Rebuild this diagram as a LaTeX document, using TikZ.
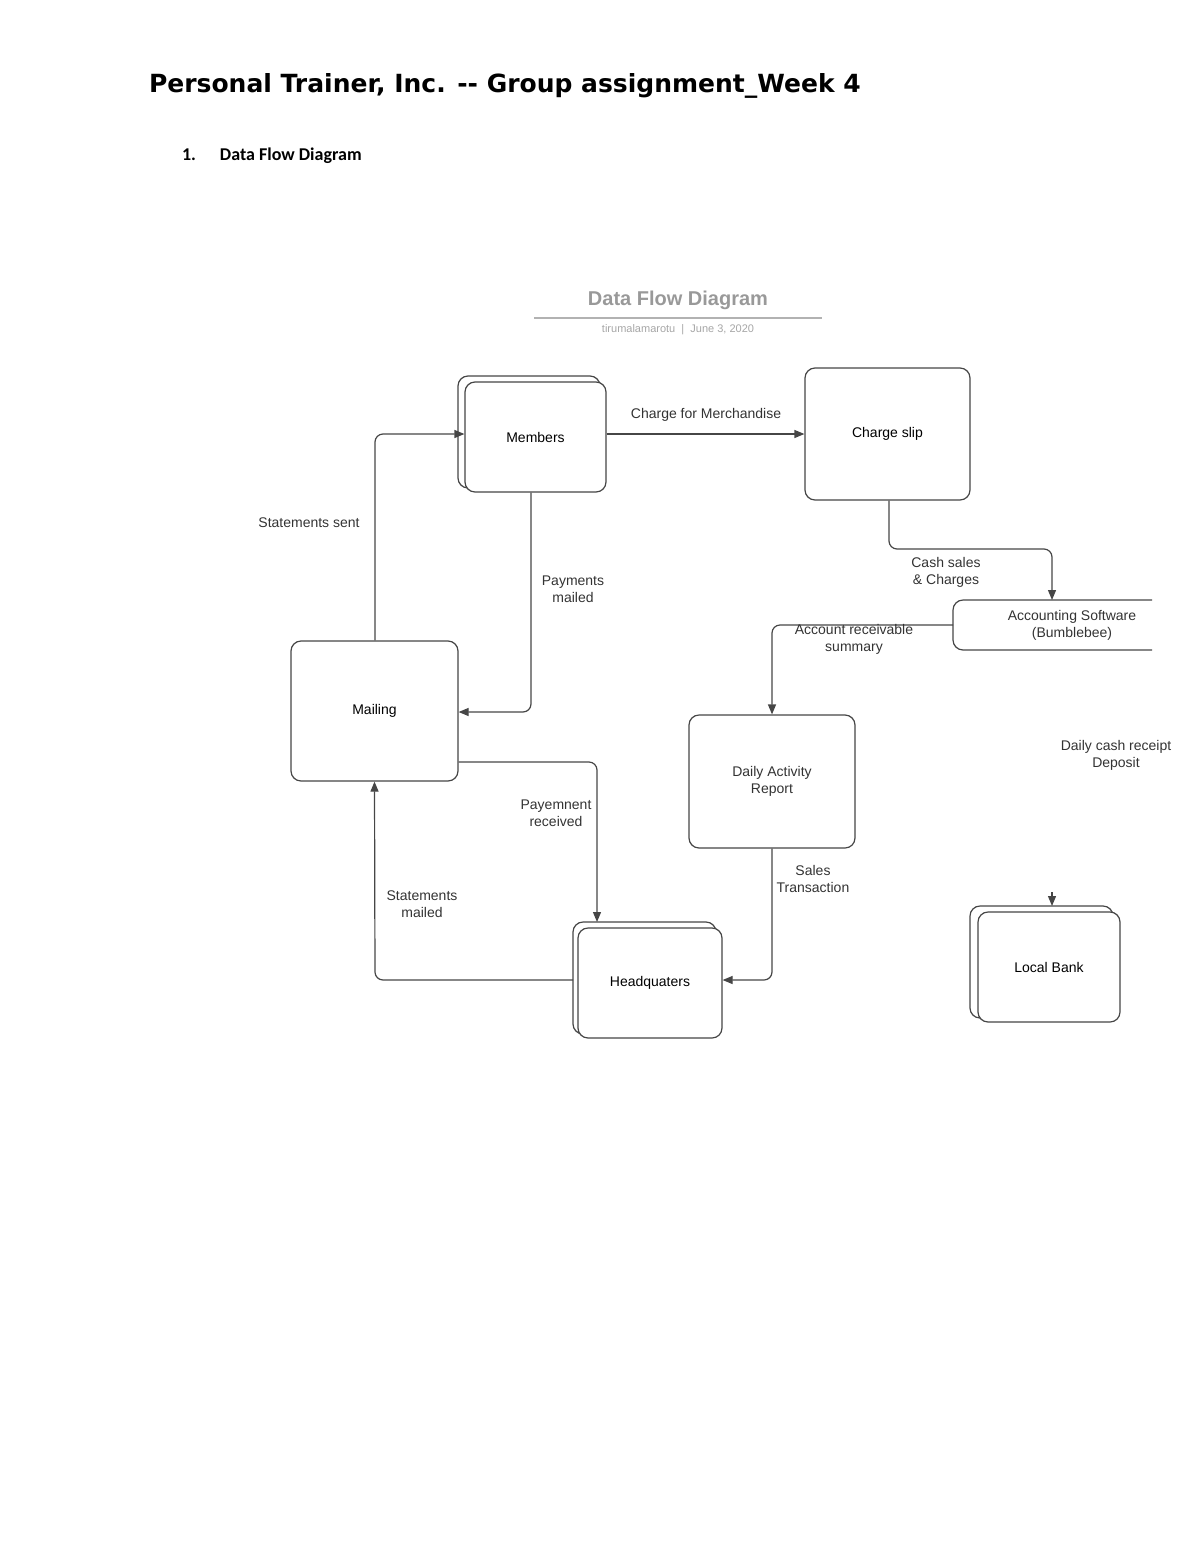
\documentclass[tikz,border=0pt]{standalone}
\usepackage{fontspec}
\setmainfont{Liberation Sans}
\newfontfamily\titlefont{DejaVu Sans}
\newfontfamily\headfont{Carlito}
\usetikzlibrary{arrows.meta}
\definecolor{ln}{RGB}{70,70,70}
\tikzset{
 box/.style={draw=ln,rounded corners=5pt,fill=white,line width=0.6pt},
 lbl/.style={font=\fontsize{7}{8.6}\selectfont,text=black!80,align=center},
 flow/.style={draw=ln,line width=0.6pt,rounded corners=4pt,-{Triangle[length=5pt,width=4pt]}}
}
\begin{document}
\begin{tikzpicture}[x=0.5pt,y=-0.5pt]
\useasboundingbox (0,0) rectangle (1200,1553);
\node[anchor=west,font=\titlefont\bfseries\fontsize{12.5}{14}\selectfont] (title) at (142,86) {Personal Trainer, Inc. -- Group assignment\_Week 4};
\node[anchor=west,font=\headfont\bfseries\fontsize{9}{11}\selectfont] (h1) at (175,156) {1.\hspace{12pt}Data Flow Diagram};
\node[font=\bfseries\fontsize{10}{12}\selectfont,text=black!40] (dt) at (678,300) {Data Flow Diagram};
\draw[black!30,line width=0.8pt] (534,318) -- (822,318);
\node[font=\fontsize{5.5}{7}\selectfont,text=black!35] (sub) at (678,330) {tirumalamarotu~~|~~June 3, 2020};
% boxes
\draw[box] (458,376) rectangle (600,488);
\node[box,minimum width=70.5pt,minimum height=55pt,font=\fontsize{7}{8.6}\selectfont] (mem) at (535.5,437) {Members};
\node[box,minimum width=82.5pt,minimum height=66pt,font=\fontsize{7}{8.6}\selectfont] (cs) at (887.5,434) {Charge slip};
\draw[ln,line width=0.6pt,rounded corners=5pt] (1152,600) -- (953,600) -- (953,650) -- (1152,650);
\node[lbl] (acc) at (1072,625) {Accounting Software\\(Bumblebee)};
\coordinate (accL) at (953,625);
\coordinate (accT) at (1052,600);
\node[box,minimum width=83.5pt,minimum height=70pt,font=\fontsize{7}{8.6}\selectfont] (mail) at (374.5,711) {Mailing};
\node[box,minimum width=83pt,minimum height=66.5pt,lbl] (dar) at (772,781.5) {Daily Activity\\Report};
\draw[box] (573,922) rectangle (716,1034);
\node[box,minimum width=72pt,minimum height=55pt,font=\fontsize{7}{8.6}\selectfont] (hq) at (650,983) {Headquaters};
\draw[box] (970,906) rectangle (1113,1018);
\node[box,minimum width=71pt,minimum height=55pt,font=\fontsize{7}{8.6}\selectfont] (lb) at (1049,967) {Local Bank};
% flows
\draw[flow] (mail.north -| 375,0) -- (375,434) -- (mem.west |- 0,434);
\node[lbl] (l1) at (309,523) {Statements sent};
\draw[flow] (531,0 |- mem.south) -- (531,712) -- (mail.east |- 0,712);
\node[lbl] (l2) at (573,589) {Payments\\mailed};
\draw[flow] (mem.east |- 0,434) -- (cs.west |- 0,434);
\node[lbl] (l3) at (706,415) {Charge for Merchandise};
\draw[flow] (889,0 |- cs.south) -- (889,549) -- (1052,549) -- (accT);
\node[lbl] (l4) at (946,572) {Cash sales\\\& Charges};
\draw[flow] (accL) -- (772,625) -- (dar.north);
\node[lbl] (l5) at (854,639) {Account receivable\\summary};
\draw[flow] (mail.east |- 0,762) -- (597,762) -- (597,922);
\node[lbl] (l6) at (556,813) {Payemnent\\received};
\draw[flow] (573,980) -- (375,980) -- (mail.south);
\node[lbl] (l7) at (422,904) {Statements\\mailed};
\draw[flow] (dar.south) -- (772,980) -- (hq.east |- 0,980);
\node[lbl] (l8) at (813,879) {Sales\\Transaction};
\coordinate (dep) at (1052,892);
\draw[flow] (dep) -- (1052,906);
\node[lbl] (l9) at (1116,755) {Daily cash receipt\\Deposit};
\end{tikzpicture}
\end{document}
